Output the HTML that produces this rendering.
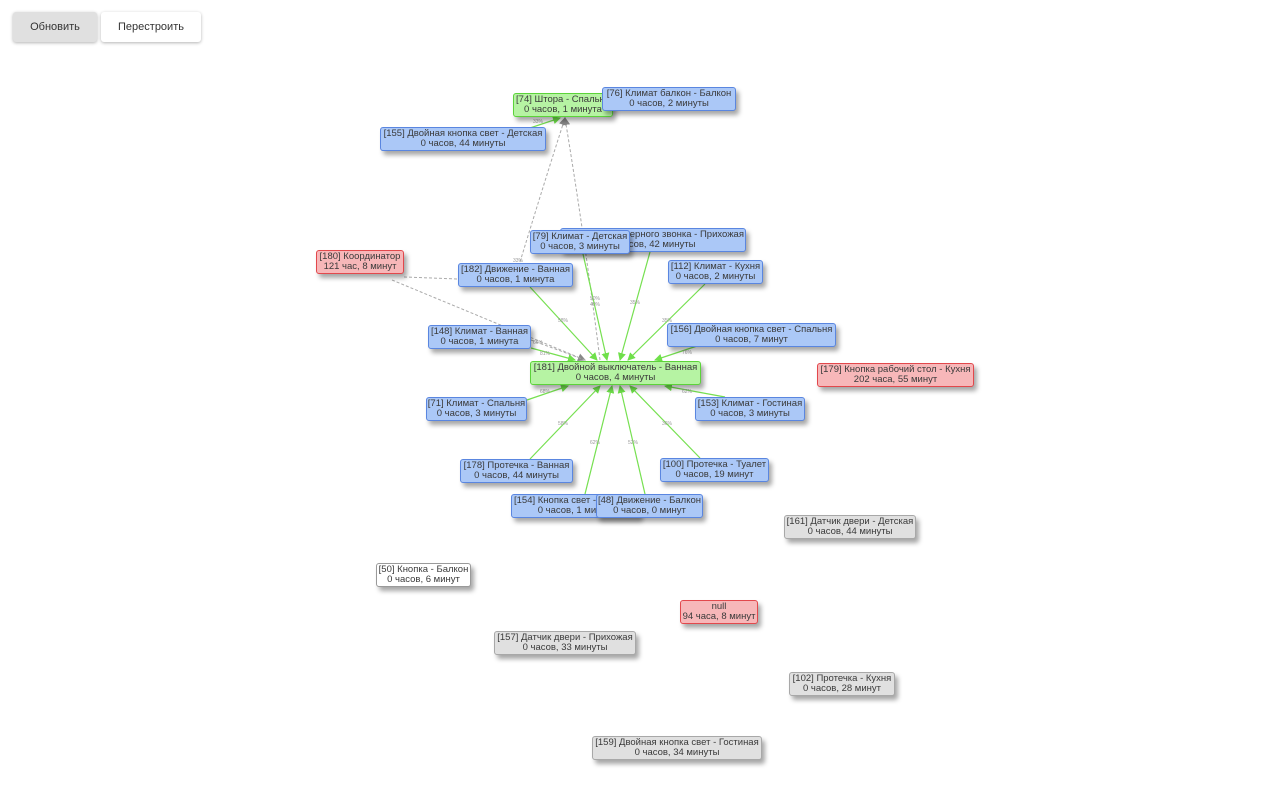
<!DOCTYPE html>
<html><head><meta charset="utf-8"><style>
body{margin:0;width:1280px;height:788px;background:#fff;position:relative;overflow:hidden;font-family:"Liberation Sans","DejaVu Sans",sans-serif}
.btn{position:absolute;top:12px;height:30px;line-height:30px;font-size:11px;color:#333;text-align:center;border-radius:3px;box-shadow:0 1px 3px rgba(0,0,0,.3)}
.n{position:absolute;border:1px solid;border-radius:3px;font-size:9.5px;line-height:10px;text-align:center;color:#3a3a3a;box-shadow:3px 4px 5px rgba(0,0,0,.35);white-space:nowrap;overflow:hidden;padding-top:1px;box-sizing:border-box;height:24px}
.b{background:#abc8f7;border-color:#5a86e0}
.g{background:#b6f3a3;border-color:#5cd33a}
.r{background:#f7b7b9;border-color:#e2484c}
.y{background:#e0e0e0;border-color:#a8a8a8}
.w{background:#fff;border-color:#9a9a9a}
svg{position:absolute;left:0;top:0}
</style></head><body>
<div class="btn" style="left:13px;width:84px;background:#e0e0e0">Обновить</div>
<div class="btn" style="left:101px;width:100px;background:#fff">Перестроить</div>
<svg width="1280" height="788">
<defs>
<marker id="ag" markerWidth="8" markerHeight="8" refX="7" refY="4" orient="auto" markerUnits="userSpaceOnUse"><path d="M0,0L8,4L0,8z" fill="#6fe04a"/></marker>
<marker id="ay" markerWidth="8" markerHeight="8" refX="7" refY="4" orient="auto" markerUnits="userSpaceOnUse"><path d="M0,0L8,4L0,8z" fill="#888"/></marker>
</defs>
<g stroke="#aaa" stroke-width="1" stroke-dasharray="3,2" fill="none">
<path d="M404,277 L458,279"/>
<path d="M392,280 L585,360" marker-end="url(#ay)"/>
<path d="M520,262 Q545,180 565,118" marker-end="url(#ay)"/>
<path d="M600,360 Q585,240 565,118" marker-end="url(#ay)"/>
<path d="M531,340 L585,360"/>
</g>
<g stroke="#76e050" stroke-width="1.2" fill="none">
<path d="M530,128 L560,118" marker-end="url(#ag)"/>
<path d="M583,254 L607,360" marker-end="url(#ag)"/>
<path d="M650,252 L620,360" marker-end="url(#ag)"/>
<path d="M530,287 L597,360" marker-end="url(#ag)"/>
<path d="M705,284 L628,360" marker-end="url(#ag)"/>
<path d="M531,348 L575,360" marker-end="url(#ag)"/>
<path d="M700,345 L655,360" marker-end="url(#ag)"/>
<path d="M527,400 L568,386" marker-end="url(#ag)"/>
<path d="M725,397 L665,386" marker-end="url(#ag)"/>
<path d="M530,459 L600,386" marker-end="url(#ag)"/>
<path d="M700,458 L630,386" marker-end="url(#ag)"/>
<path d="M585,494 L612,386" marker-end="url(#ag)"/>
<path d="M645,494 L620,386" marker-end="url(#ag)"/>
</g>
<g font-size="5" fill="#999" font-family="Liberation Sans,sans-serif">
<text x="533" y="123">33%</text><text x="513" y="262">33%</text>
<text x="590" y="300">50%</text><text x="590" y="306">40%</text>
<text x="630" y="304">35%</text><text x="558" y="322">58%</text>
<text x="662" y="322">35%</text><text x="533" y="344">66%</text>
<text x="540" y="355">81%</text><text x="682" y="354">76%</text>
<text x="540" y="393">68%</text><text x="682" y="393">62%</text>
<text x="558" y="425">58%</text><text x="662" y="425">36%</text>
<text x="590" y="444">62%</text><text x="628" y="444">52%</text>
</g>
</svg>
<div class="n g" style="left:513px;top:93px;width:100px">[74] Штора - Спальня<br>0 часов, 1 минута</div>
<div class="n b" style="left:602px;top:87px;width:134px">[76] Климат балкон - Балкон<br>0 часов, 2 минуты</div>
<div class="n b" style="left:380px;top:127px;width:166px">[155] Двойная кнопка свет - Детская<br>0 часов, 44 минуты</div>
<div class="n b" style="left:560px;top:228px;width:186px">[183] Кнопка дверного звонка - Прихожая<br>0 часов, 42 минуты</div>
<div class="n b" style="left:530px;top:230px;width:100px">[79] Климат - Детская<br>0 часов, 3 минуты</div>
<div class="n r" style="left:316px;top:250px;width:88px">[180] Координатор<br>121 час, 8 минут</div>
<div class="n b" style="left:458px;top:263px;width:115px">[182] Движение - Ванная<br>0 часов, 1 минута</div>
<div class="n b" style="left:668px;top:260px;width:95px">[112] Климат - Кухня<br>0 часов, 2 минуты</div>
<div class="n b" style="left:428px;top:325px;width:103px">[148] Климат - Ванная<br>0 часов, 1 минута</div>
<div class="n b" style="left:667px;top:323px;width:169px">[156] Двойная кнопка свет - Спальня<br>0 часов, 7 минут</div>
<div class="n g" style="left:530px;top:361px;width:171px">[181] Двойной выключатель - Ванная<br>0 часов, 4 минуты</div>
<div class="n r" style="left:817px;top:363px;width:157px">[179] Кнопка рабочий стол - Кухня<br>202 часа, 55 минут</div>
<div class="n b" style="left:426px;top:397px;width:101px">[71] Климат - Спальня<br>0 часов, 3 минуты</div>
<div class="n b" style="left:695px;top:397px;width:110px">[153] Климат - Гостиная<br>0 часов, 3 минуты</div>
<div class="n b" style="left:460px;top:459px;width:113px">[178] Протечка - Ванная<br>0 часов, 44 минуты</div>
<div class="n b" style="left:660px;top:458px;width:109px">[100] Протечка - Туалет<br>0 часов, 19 минут</div>
<div class="n b" style="left:511px;top:494px;width:129px;text-align:left;padding-left:2px">[154] Кнопка свет - Балкон<br>&nbsp;&nbsp;&nbsp;&nbsp;&nbsp;&nbsp;&nbsp;&nbsp;&nbsp;0 часов, 1 минута</div>
<div class="n b" style="left:596px;top:494px;width:107px">[48] Движение - Балкон<br>0 часов, 0 минут</div>
<div class="n y" style="left:784px;top:515px;width:132px">[161] Датчик двери - Детская<br>0 часов, 44 минуты</div>
<div class="n w" style="left:376px;top:563px;width:95px">[50] Кнопка - Балкон<br>0 часов, 6 минут</div>
<div class="n r" style="left:680px;top:600px;width:78px">null<br>94 часа, 8 минут</div>
<div class="n y" style="left:494px;top:631px;width:142px">[157] Датчик двери - Прихожая<br>0 часов, 33 минуты</div>
<div class="n y" style="left:789px;top:672px;width:106px">[102] Протечка - Кухня<br>0 часов, 28 минут</div>
<div class="n y" style="left:592px;top:736px;width:170px">[159] Двойная кнопка свет - Гостиная<br>0 часов, 34 минуты</div>
</body></html>
